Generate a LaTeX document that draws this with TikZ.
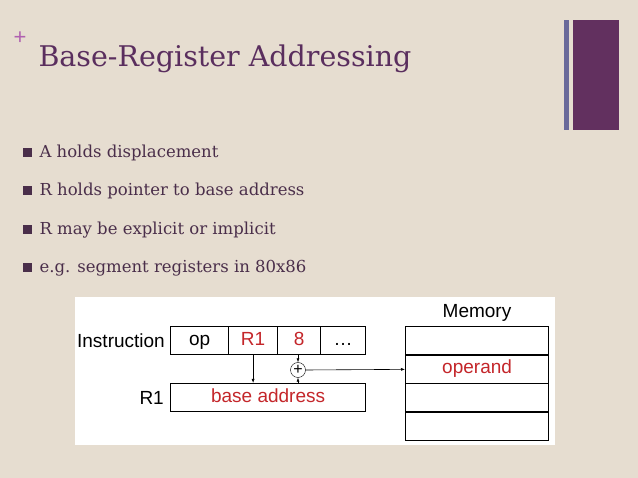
\documentclass[tikz,border=0pt]{standalone}
\usepackage{fontspec}
\setmainfont{DejaVu Serif}
\newfontfamily\sansf{Liberation Sans}
\usetikzlibrary{arrows.meta}
\definecolor{bg}{HTML}{E6DDD0}
\definecolor{ttl}{HTML}{5A2E5E}
\definecolor{bar}{HTML}{62305F}
\definecolor{barb}{HTML}{6A6A9A}
\definecolor{pls}{HTML}{B060B0}
\definecolor{rd}{HTML}{C4262A}
\definecolor{txt}{HTML}{4A2E4A}
\tikzset{cell/.style={draw,line width=1.2pt,fill=white,inner sep=0pt,text height=13pt,text depth=4pt},
lab/.style={font=\sansf\fontsize{19}{19}\selectfont},
arr/.style={-{Latex[length=4pt,width=3pt]},semithick},
bul/.style={anchor=west,font=\fontsize{16.5}{18}\selectfont,text=txt}}
\begin{document}
\begin{tikzpicture}[x=1pt,y=-1pt]
\fill[bg] (0,0) rectangle (638,478);
\useasboundingbox (0,0) rectangle (638,478);
\fill[barb] (564,20) rectangle (569,130);
\fill[bar] (573,20) rectangle (619,130);
\node[text=pls,font=\sansf\fontsize{22}{22}\selectfont] (plus) at (20,38) {+};
\node[anchor=west,text=ttl,font=\fontsize{28.5}{30}\selectfont] (title) at (35,59) {Base-Register Addressing};
\foreach \y/\t [count=\i] in {153/A holds displacement,191/R holds pointer to base address,230/R may be explicit or implicit,268/e.g. segment registers in 80x86}{
  \fill[txt] (23,\y-5) rectangle (32,\y+4);
  \node[bul] (b\i) at (36,\y) {\t};
}
\fill[white] (75,297) rectangle (555,445);
\node[cell,minimum width=58pt,minimum height=28pt,anchor=north west,lab] (op) at (170,326) {op};
\node[cell,minimum width=49pt,minimum height=28pt,anchor=north west,lab,text=rd] (r1c) at (228,326) {R1};
\node[cell,minimum width=43pt,minimum height=28pt,anchor=north west,lab,text=rd] (eight) at (277,326) {8};
\node[cell,minimum width=45pt,minimum height=28pt,anchor=north west,lab] (dots) at (320,326) {\ldots};
\node[lab,anchor=east,inner sep=1pt] (ilab) at (166,341) {Instruction};
\node[cell,minimum width=195pt,minimum height=28pt,anchor=north west,lab,text=rd] (base) at (170,383) {base address};
\node[lab,anchor=east,inner sep=1pt] (rlab) at (165,398) {R1};
\node[lab] (memlab) at (477,313) {Memory};
\node[cell,minimum width=143pt,minimum height=28.5pt,anchor=north west] (m1) at (405,326) {};
\node[cell,minimum width=143pt,minimum height=28.5pt,anchor=north west,lab,text=rd] (m2) at (405,354.5) {operand};
\node[cell,minimum width=143pt,minimum height=28.5pt,anchor=north west] (m3) at (405,383) {};
\node[cell,minimum width=143pt,minimum height=28.5pt,anchor=north west] (m4) at (405,411.5) {};
\node[draw,circle,inner sep=0pt,minimum size=15pt,font=\sansf\fontsize{16}{16}\selectfont,fill=white] (add) at (298,370) {+};
\draw[arr] (r1c.south) -- (r1c.south |- base.north);
\draw[arr] (eight.south -| add) -- (add.north);
\draw[arr] (base.north -| add) -- (add.south);
\draw[arr] (add.east) -- (m2.west);
\end{tikzpicture}
\end{document}
